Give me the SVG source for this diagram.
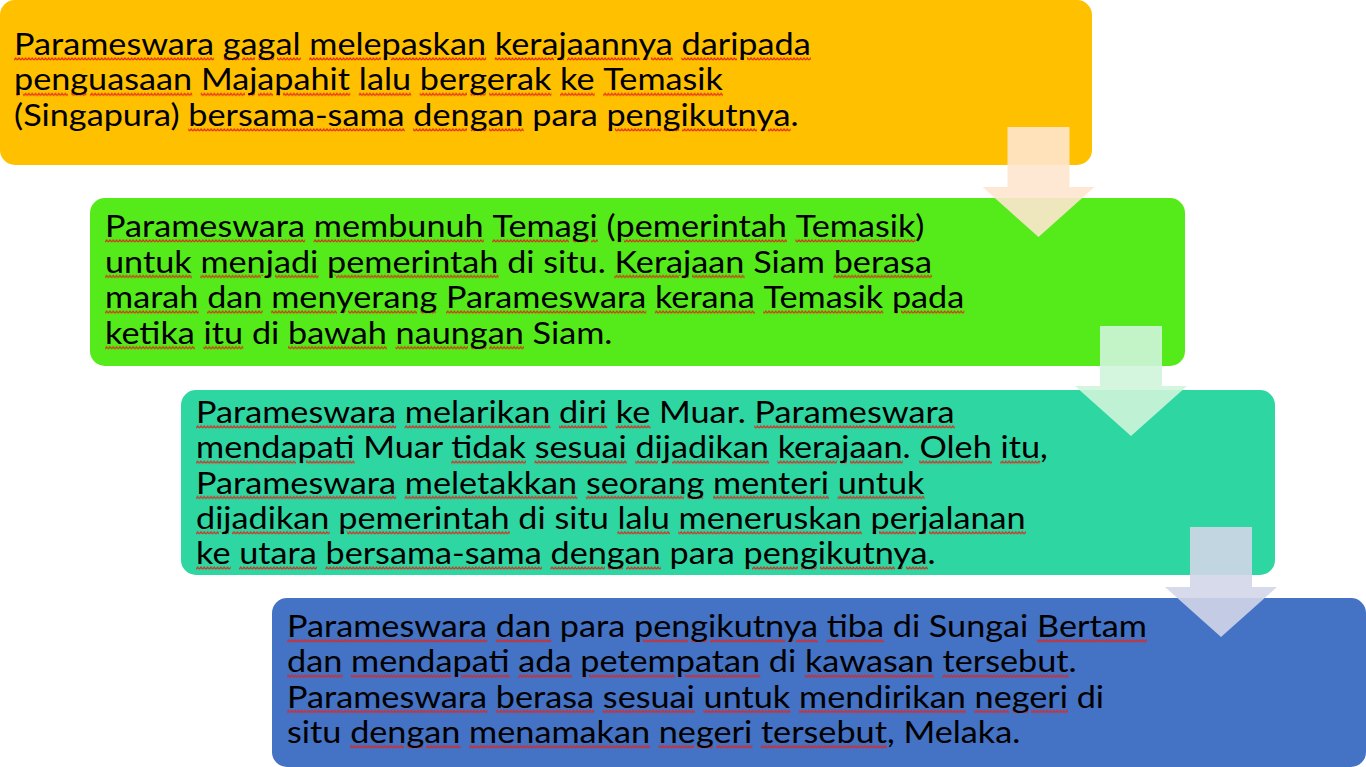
<svg xmlns="http://www.w3.org/2000/svg" width="1366" height="767" viewBox="0 0 1366 767">
<style>
.t{font-family:Lato,"Liberation Sans",sans-serif;font-size:31px;fill:var(--tf,#000);}
.u{fill:var(--uf,#000);text-decoration:var(--td,none);}
.ul{--tf:none;--uf:#e3281f;--td:underline;}
.zz{fill:none;stroke:#fff;stroke-width:1.1;}
</style>
<defs>
<path id="arr" d="M-31,0 H31 V60 H56 L0,110 L-56,60 H-31 Z"/>
<filter id="thk" x="-2%" y="-20%" width="104%" height="140%">
<feOffset in="SourceGraphic" dy="-1.5" result="a"/>
<feOffset in="SourceGraphic" dy="1.5" result="b"/>
<feOffset in="SourceGraphic" dy="3" result="c"/>
<feMerge><feMergeNode in="SourceGraphic"/><feMergeNode in="a"/><feMergeNode in="b"/><feMergeNode in="c"/></feMerge>
</filter>
<pattern id="p1" patternUnits="userSpaceOnUse" x="0" y="55" width="3" height="35.5"><path class="zz" d="M0,5 L1.5,3 L3,5"/></pattern>
<pattern id="p2" patternUnits="userSpaceOnUse" x="0" y="237" width="3" height="35.6"><path class="zz" d="M0,5 L1.5,3 L3,5"/></pattern>
<pattern id="p3" patternUnits="userSpaceOnUse" x="0" y="423" width="3" height="35.3"><path class="zz" d="M0,5 L1.5,3 L3,5"/></pattern>
<pattern id="p4" patternUnits="userSpaceOnUse" x="0" y="637" width="3" height="35.3"><path class="zz" d="M0,5 L1.5,3 L3,5"/></pattern>
<mask id="m1" maskUnits="userSpaceOnUse" x="-20" y="0" width="1300" height="767"><rect x="-20" y="0" width="1300" height="767" fill="url(#p1)"/></mask>
<mask id="m2" maskUnits="userSpaceOnUse" x="-20" y="0" width="1300" height="767"><rect x="-20" y="0" width="1300" height="767" fill="url(#p2)"/></mask>
<mask id="m3" maskUnits="userSpaceOnUse" x="-20" y="0" width="1300" height="767"><rect x="-20" y="0" width="1300" height="767" fill="url(#p3)"/></mask>
<mask id="m4" maskUnits="userSpaceOnUse" x="-20" y="0" width="1300" height="767"><rect x="-20" y="0" width="1300" height="767" fill="url(#p4)"/></mask>
</defs>
<rect width="1366" height="767" fill="#fff"/>
<g id="node1">
<rect x="0" y="0" width="1092" height="165" rx="15" fill="#FFC000"/>
<g transform="translate(14,0) scale(1.104,1)">
<use href="#tx1" class="ul" filter="url(#thk)" mask="url(#m1)"/>
<g id="tx1">
<text class="t" x="0" y="55"><tspan class="u">Parameswara</tspan> <tspan class="u">gagal</tspan> <tspan class="u">melepaskan</tspan> <tspan class="u">kerajaannya</tspan> <tspan class="u">daripada</tspan></text>
<text class="t" x="0" y="90.5"><tspan class="u">penguasaan</tspan> <tspan class="u">Majapahit</tspan> <tspan class="u">lalu</tspan> <tspan class="u">bergerak</tspan> <tspan class="u">ke</tspan> <tspan class="u">Temasik</tspan></text>
<text class="t" x="0" y="126">(Singapura) <tspan class="u">bersama-sama</tspan> <tspan class="u">dengan</tspan> para <tspan class="u">pengikutnya</tspan>.</text>
</g>
</g>
</g>
<g id="node2">
<rect x="90" y="198" width="1095" height="168" rx="15" fill="#55EA1A"/>
<g transform="translate(105,0) scale(1.104,1)">
<use href="#tx2" class="ul" filter="url(#thk)" mask="url(#m2)"/>
<g id="tx2">
<text class="t" x="0" y="237"><tspan class="u">Parameswara</tspan> <tspan class="u">membunuh</tspan> <tspan class="u">Temagi</tspan> (<tspan class="u">pemerintah</tspan> <tspan class="u">Temasik</tspan>)</text>
<text class="t" x="0" y="272.6"><tspan class="u">untuk</tspan> <tspan class="u">menjadi</tspan> <tspan class="u">pemerintah</tspan> di situ. <tspan class="u">Kerajaan</tspan> Siam <tspan class="u">berasa</tspan></text>
<text class="t" x="0" y="308.2"><tspan class="u">marah</tspan> <tspan class="u">dan</tspan> <tspan class="u">menyerang</tspan> <tspan class="u">Parameswara</tspan> <tspan class="u">kerana</tspan> <tspan class="u">Temasik</tspan> <tspan class="u">pada</tspan></text>
<text class="t" x="0" y="343.8"><tspan class="u">ketika</tspan> <tspan class="u">itu</tspan> di <tspan class="u">bawah</tspan> <tspan class="u">naungan</tspan> Siam.</text>
</g>
</g>
</g>
<g id="node3">
<rect x="181" y="390" width="1094" height="185" rx="15" fill="#2ED6A2"/>
<g transform="translate(196,0) scale(1.104,1)">
<use href="#tx3" class="ul" filter="url(#thk)" mask="url(#m3)"/>
<g id="tx3">
<text class="t" x="0" y="423"><tspan class="u">Parameswara</tspan> <tspan class="u">melarikan</tspan> <tspan class="u">diri</tspan> <tspan class="u">ke</tspan> Muar. <tspan class="u">Parameswara</tspan></text>
<text class="t" x="0" y="458.3"><tspan class="u">mendapati</tspan> Muar <tspan class="u">tidak</tspan> <tspan class="u">sesuai</tspan> <tspan class="u">dijadikan</tspan> <tspan class="u">kerajaan</tspan>. <tspan class="u">Oleh</tspan> <tspan class="u">itu</tspan>,</text>
<text class="t" x="0" y="493.6"><tspan class="u">Parameswara</tspan> <tspan class="u">meletakkan</tspan> <tspan class="u">seorang</tspan> <tspan class="u">menteri</tspan> <tspan class="u">untuk</tspan></text>
<text class="t" x="0" y="528.9"><tspan class="u">dijadikan</tspan> <tspan class="u">pemerintah</tspan> di situ <tspan class="u">lalu</tspan> <tspan class="u">meneruskan</tspan> <tspan class="u">perjalanan</tspan></text>
<text class="t" x="0" y="564.2"><tspan class="u">ke</tspan> <tspan class="u">utara</tspan> <tspan class="u">bersama-sama</tspan> <tspan class="u">dengan</tspan> para <tspan class="u">pengikutnya</tspan>.</text>
</g>
</g>
</g>
<g id="node4">
<rect x="272" y="598" width="1094" height="169" rx="15" fill="#4472C4"/>
<g transform="translate(287,0) scale(1.104,1)">
<use href="#tx4" class="ul" filter="url(#thk)" mask="url(#m4)"/>
<g id="tx4">
<text class="t" x="0" y="637"><tspan class="u">Parameswara</tspan> <tspan class="u">dan</tspan> para <tspan class="u">pengikutnya</tspan> <tspan class="u">tiba</tspan> di Sungai <tspan class="u">Bertam</tspan></text>
<text class="t" x="0" y="672.3"><tspan class="u">dan</tspan> <tspan class="u">mendapati</tspan> <tspan class="u">ada</tspan> <tspan class="u">petempatan</tspan> di <tspan class="u">kawasan</tspan> <tspan class="u">tersebut</tspan>.</text>
<text class="t" x="0" y="707.6"><tspan class="u">Parameswara</tspan> <tspan class="u">berasa</tspan> <tspan class="u">sesuai</tspan> <tspan class="u">untuk</tspan> <tspan class="u">mendirikan</tspan> <tspan class="u">negeri</tspan> di</text>
<text class="t" x="0" y="742.9">situ <tspan class="u">dengan</tspan> <tspan class="u">menamakan</tspan> <tspan class="u">negeri</tspan> <tspan class="u">tersebut</tspan>, Melaka.</text>
</g>
</g>
</g>
<g id="connectors">
<use href="#arr" transform="translate(1038.5,127)" fill="rgb(255,230,206)" fill-opacity="0.9"/>
<use href="#arr" transform="translate(1131,326)" fill="rgb(207,245,218)" fill-opacity="0.9"/>
<use href="#arr" transform="translate(1221,527)" fill="rgb(209,214,232)" fill-opacity="0.9"/>
</g>
</svg>
